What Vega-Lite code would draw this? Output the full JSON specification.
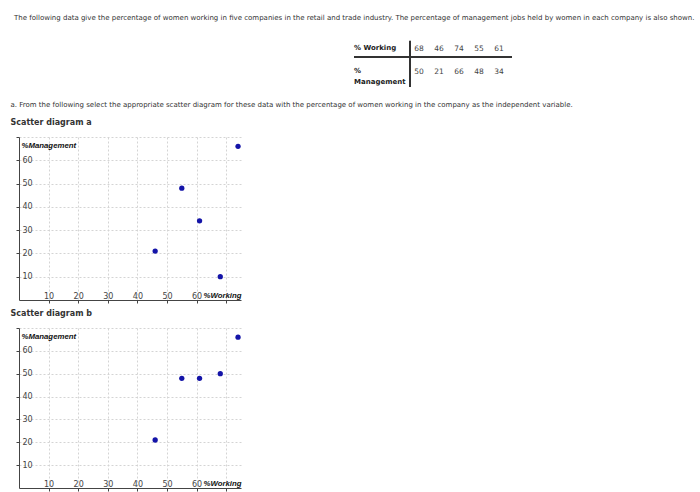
{
  "$schema": "https://vega.github.io/schema/vega-lite/v6.json",
  "background": "white",
  "padding": {"left": 10, "top": 14, "right": 0, "bottom": 0},
  "spacing": 5,
  "datasets": {
    "table": [
      {"row": "% Working", "r": 1, "col": 1, "value": 68},
      {"row": "% Working", "r": 1, "col": 2, "value": 46},
      {"row": "% Working", "r": 1, "col": 3, "value": 74},
      {"row": "% Working", "r": 1, "col": 4, "value": 55},
      {"row": "% Working", "r": 1, "col": 5, "value": 61},
      {"row": "%|Management", "r": 2, "col": 1, "value": 50},
      {"row": "%|Management", "r": 2, "col": 2, "value": 21},
      {"row": "%|Management", "r": 2, "col": 3, "value": 66},
      {"row": "%|Management", "r": 2, "col": 4, "value": 48},
      {"row": "%|Management", "r": 2, "col": 5, "value": 34}
    ],
    "diagramA": [
      {"working": 46, "management": 21},
      {"working": 55, "management": 48},
      {"working": 61, "management": 34},
      {"working": 68, "management": 10},
      {"working": 74, "management": 66}
    ],
    "diagramB": [
      {"working": 46, "management": 21},
      {"working": 55, "management": 48},
      {"working": 61, "management": 48},
      {"working": 68, "management": 50},
      {"working": 74, "management": 66}
    ]
  },
  "vconcat": [
    {
      "title": {
        "text": "The following data give the percentage of women working in five companies in the retail and trade industry. The percentage of management jobs held by women in each company is also shown.",
        "anchor": "start",
        "dx": -5,
        "offset": 5,
        "fontSize": 7,
        "fontWeight": "normal",
        "color": "#333"
      },
      "width": 500,
      "height": 69,
      "data": {"name": "table"},
      "layer": [
        {
          "mark": {"type": "text", "fontSize": 7.5, "color": "#444"},
          "encoding": {
            "x": {"field": "col", "type": "quantitative", "scale": {"domain": [-19, 6], "nice": false, "zero": false}, "axis": null},
            "y": {"field": "r", "type": "quantitative", "scale": {"domain": [0, 3], "nice": false, "reverse": true}, "axis": null},
            "text": {"field": "value"}
          }
        },
        {
          "transform": [{"aggregate": [{"op": "count", "as": "n"}], "groupby": ["row", "r"]}],
          "mark": {"type": "text", "align": "left", "fontSize": 7, "fontWeight": "bold", "color": "#222", "lineBreak": "|", "lineHeight": 11, "dy": -1},
          "encoding": {
            "x": {"datum": -2.25},
            "y": {"field": "r", "type": "quantitative"},
            "text": {"field": "row"}
          }
        },
        {
          "mark": {"type": "rule", "color": "#333", "strokeWidth": 1},
          "encoding": {"x": {"datum": 0.55}, "y": {"datum": 0.65}, "y2": {"datum": 2.65}}
        },
        {
          "mark": {"type": "rule", "color": "#333", "strokeWidth": 1},
          "encoding": {"x": {"datum": -2.25}, "x2": {"datum": 5.65}, "y": {"datum": 1.35}}
        }
      ]
    },
    {
      "title": {
        "text": "a. From the following select the appropriate scatter diagram for these data with the percentage of women working in the company as the independent variable.",
        "subtitle": "Scatter diagram a",
        "anchor": "start",
        "dx": -5,
        "offset": 10,
        "fontSize": 7,
        "fontWeight": "normal",
        "color": "#333",
        "subtitleFontSize": 8,
        "subtitleFontWeight": "bold",
        "subtitleColor": "#333",
        "subtitlePadding": 11
      },
      "width": 222,
      "height": 163,
      "data": {"name": "diagramA"},
      "mark": {"type": "circle", "size": 28, "color": "#1414a8", "opacity": 1},
      "encoding": {
        "x": {"field": "working", "type": "quantitative", "scale": {"domain": [0, 75], "nice": false},
              "axis": {"values": [10, 20, 30, 40, 50, 60, 70], "labelExpr": "datum.value >= 70 ? '' : datum.label", "title": "%Working", "titleX": 222, "titleY": -3}},
        "y": {"field": "management", "type": "quantitative", "scale": {"domain": [0, 70], "nice": false},
              "axis": {"values": [10, 20, 30, 40, 50, 60, 70], "labelExpr": "datum.value >= 70 ? '' : datum.label", "title": "%Management", "titleX": 2, "titleY": 10}}
      }
    },
    {
      "title": {
        "text": "Scatter diagram b",
        "anchor": "start",
        "dx": -5,
        "offset": 10,
        "fontSize": 8,
        "fontWeight": "bold",
        "color": "#333"
      },
      "width": 222,
      "height": 160,
      "data": {"name": "diagramB"},
      "mark": {"type": "circle", "size": 28, "color": "#1414a8", "opacity": 1},
      "encoding": {
        "x": {"field": "working", "type": "quantitative", "scale": {"domain": [0, 75], "nice": false},
              "axis": {"values": [10, 20, 30, 40, 50, 60, 70], "labelExpr": "datum.value >= 70 ? '' : datum.label", "title": "%Working", "titleX": 222, "titleY": -3}},
        "y": {"field": "management", "type": "quantitative", "scale": {"domain": [0, 70], "nice": false},
              "axis": {"values": [10, 20, 30, 40, 50, 60, 70], "labelExpr": "datum.value >= 70 ? '' : datum.label", "title": "%Management", "titleX": 2, "titleY": 10}}
      }
    }
  ],
  "config": {
    "font": "DejaVu Sans",
    "view": {"stroke": null},
    "axisX": {
      "labelPadding": -5,
      "labelBaseline": "alphabetic",
      "titleAlign": "right",
      "titleBaseline": "alphabetic",
      "titleAnchor": null
    },
    "axisY": {
      "labelAlign": "left",
      "labelBaseline": "middle",
      "labelPadding": -6,
      "titleAngle": 0,
      "titleAlign": "left",
      "titleBaseline": "alphabetic",
      "titleAnchor": null
    },
    "axis": {
      "grid": true,
      "gridColor": "#d4d4d4",
      "gridDash": [2, 2],
      "gridWidth": 1,
      "domainColor": "#444",
      "domainWidth": 1,
      "tickColor": "#444",
      "tickSize": 3,
      "labelFontSize": 8,
      "labelColor": "#444",
      "titleFont": "Liberation Sans",
      "titleFontSize": 7.8,
      "titleFontWeight": "bold",
      "titleFontStyle": "italic",
      "titleColor": "#111"
    }
  }
}
